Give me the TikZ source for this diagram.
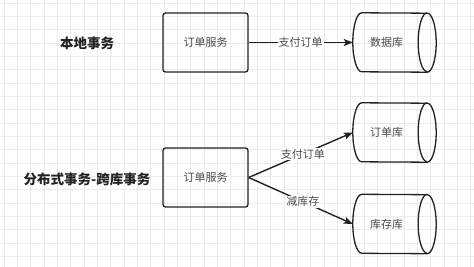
\documentclass[tikz,border=0pt]{standalone}
\usepackage{fontspec}
\setmainfont{Noto Sans CJK SC}
\usetikzlibrary{arrows.meta}
\definecolor{gridc}{HTML}{EBEBEB}
\definecolor{txt}{HTML}{4A4A4A}
\definecolor{ln}{HTML}{222222}
\tikzset{
  svcbox/.style={draw=ln,line width=1.3pt,rounded corners=2.5pt,minimum width=85pt,minimum height=59pt,inner sep=0pt,font=\fontsize{11}{13}\selectfont,text=txt},
  dbnode/.style={minimum width=83pt,minimum height=59pt,inner sep=0pt,font=\fontsize{11}{13}\selectfont,text=txt},
  cylline/.style={draw=ln,line width=1.3pt},
  ttl/.style={font=\fontsize{13.5}{15}\selectfont\bfseries,text=ln},
  lbl/.style={fill=white,inner sep=1pt,font=\fontsize{11}{13}\selectfont,text=txt},
  conn/.style={draw=ln,line width=1.4pt,-{Stealth[length=9pt,width=7pt,inset=2pt]}}
}
\newcommand{\dbcylinder}[1]{%
  \draw[cylline] ([xshift=9pt]#1.north west)
    arc[start angle=90,end angle=270,x radius=9pt,y radius=29.5pt]
    -- ([xshift=-9pt]#1.south east)
    arc[start angle=270,end angle=450,x radius=9pt,y radius=29.5pt]
    -- cycle;
  \draw[cylline] ([xshift=-9pt]#1.north east)
    arc[start angle=90,end angle=270,x radius=9pt,y radius=29.5pt];
}
\begin{document}
\begin{tikzpicture}[x=1pt,y=-1pt]
\useasboundingbox (0,0) rectangle (474,267);
\fill[white] (0,0) rectangle (474,267);
\foreach \i in {0,...,35} {\draw[gridc,line width=0.5pt] (4+\i*13.333,0) -- (4+\i*13.333,267);}
\foreach \j in {0,...,20} {\draw[gridc,line width=0.5pt] (0,3+\j*13.333) -- (474,3+\j*13.333);}
\node[ttl] (t1) at (87,43) {本地事务};
\node[ttl] (t2) at (87,179) {分布式事务-跨库事务};
\node[svcbox] (s1) at (205.5,42.5) {订单服务};
\node[svcbox] (s2) at (205.5,177.5) {订单服务};
\node[dbnode] (d1) at (394.5,42.5) {数据库\hspace*{16pt}};
\node[dbnode] (d2) at (394.5,132.5) {订单库\hspace*{16pt}};
\node[dbnode] (d3) at (394.5,224) {库存库\hspace*{16pt}};
\dbcylinder{d1}
\dbcylinder{d2}
\dbcylinder{d3}
\draw[conn] (s1.east) -- node[lbl] {支付订单} (d1.west);
\draw[conn] (s2.east) -- node[lbl,pos=0.52] {支付订单} (d2.west);
\draw[conn] (s2.east) -- node[lbl,pos=0.52] {减库存} (d3.west);
\end{tikzpicture}
\end{document}
